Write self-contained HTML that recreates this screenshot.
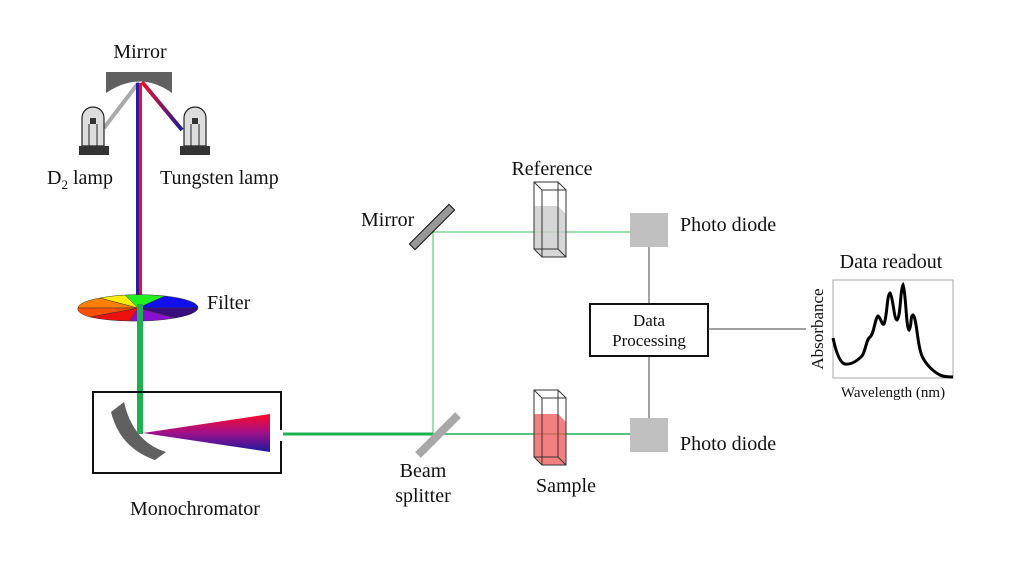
<!DOCTYPE html>
<html><head><meta charset="utf-8"><style>
html,body{margin:0;padding:0;background:#fff;}
svg{display:block;}
text{font-family:"Liberation Serif",serif;fill:#111;}
</style></head><body>
<svg width="1024" height="574" viewBox="0 0 1024 574" xmlns="http://www.w3.org/2000/svg">
<defs>
<linearGradient id="tg" x1="0" y1="0" x2="1" y2="1"><stop offset="0" stop-color="#f01030"/><stop offset="1" stop-color="#1a1a90"/></linearGradient>
<linearGradient id="tri" x1="0" y1="0" x2="0" y2="1"><stop offset="0" stop-color="#ff0a2a"/><stop offset="0.5" stop-color="#a0108a"/><stop offset="1" stop-color="#1a1aa0"/></linearGradient>
</defs>
<!-- top mirror -->
<path d="M106,72 L172,72 L172,93 Q140,70 106,93 Z" fill="#606060"/>
<line x1="104" y1="128" x2="139" y2="82" stroke="#aaa" stroke-width="4"/>
<line x1="142" y1="82" x2="182" y2="130" stroke="url(#tg)" stroke-width="4"/>
<rect x="136" y="83" width="3" height="220" fill="#2a1aa0"/>
<rect x="139" y="83" width="3" height="220" fill="#f01030"/>
<!-- D2 lamp -->
<path d="M82,146 L82,118 A11,11 0 0 1 104,118 L104,146 Z" fill="#ddd" stroke="#222" stroke-width="1.2"/>
<line x1="89" y1="146" x2="89" y2="124" stroke="#222"/><line x1="97" y1="146" x2="97" y2="124" stroke="#222"/>
<rect x="90" y="118" width="6" height="6" fill="#333"/>
<rect x="79" y="146" width="30" height="9" fill="#333"/>
<!-- tungsten lamp -->
<path d="M184,146 L184,118 A11,11 0 0 1 206,118 L206,146 Z" fill="#ddd" stroke="#222" stroke-width="1.2"/>
<line x1="191" y1="146" x2="191" y2="124" stroke="#222"/><line x1="199" y1="146" x2="199" y2="124" stroke="#222"/>
<rect x="192" y="118" width="6" height="6" fill="#333"/>
<rect x="180" y="146" width="30" height="9" fill="#333"/>
<!-- filter -->
<g stroke="#333" stroke-width="0.5">
<path d="M138,308 L78,308 A60,13 0 0 1 100,298 Z" fill="#ff8000"/>
<path d="M138,308 L100,298 A60,13 0 0 1 125,295 Z" fill="#ffee00"/>
<path d="M138,308 L125,295 A60,13 0 0 1 165,296 Z" fill="#22ee22"/>
<path d="M138,308 L165,296 A60,13 0 0 1 198,308 Z" fill="#1010ee"/>
<path d="M138,308 L198,308 A60,13 0 0 1 175,318 Z" fill="#3a0a80"/>
<path d="M138,308 L175,318 A60,13 0 0 1 130,321 Z" fill="#8a10d0"/>
<path d="M138,308 L130,321 A60,13 0 0 1 90,317 Z" fill="#ee1010"/>
<path d="M138,308 L90,317 A60,13 0 0 1 78,308 Z" fill="#ff5000"/>
</g>
<rect x="137" y="304" width="6" height="130" fill="#1fb050"/>
<!-- monochromator -->
<path d="M281,430 L281,392 L93,392 L93,473 L281,473 L281,441" fill="none" stroke="#111" stroke-width="2"/>
<path d="M111,412 L124,402 Q133,442 166,452 L155,460 Q120,448 111,412 Z" fill="#606060"/>
<polygon points="143,433 270,414 270,452" fill="url(#tri)"/>
<!-- output beam -->
<line x1="283" y1="434" x2="433" y2="434" stroke="#1fb050" stroke-width="3"/>
<line x1="433" y1="434" x2="630" y2="434" stroke="#1fb050" stroke-width="1.5"/>
<line x1="433" y1="232" x2="433" y2="434" stroke="#3cc060" stroke-width="1"/>
<line x1="433" y1="232" x2="630" y2="232" stroke="#3cc060" stroke-width="1"/>
<line x1="418" y1="455" x2="458" y2="415" stroke="#a8a8a8" stroke-width="8"/>
<g transform="translate(432,227) rotate(-45)"><rect x="-28" y="-4" width="56" height="8" fill="#999" stroke="#111" stroke-width="1"/></g>
<!-- reference cuvette -->
<polygon points="534,206 558,206 566,214 566,257 542,257 534,249" fill="#ccc" opacity="0.8"/>
<g fill="none" stroke="#333" stroke-width="1">
<rect x="534" y="182" width="24" height="67"/><rect x="542" y="190" width="24" height="67"/>
<line x1="534" y1="182" x2="542" y2="190"/><line x1="558" y1="182" x2="566" y2="190"/>
<line x1="534" y1="249" x2="542" y2="257"/><line x1="558" y1="249" x2="566" y2="257"/>
</g>
<!-- sample cuvette -->
<polygon points="534,414 558,414 566,422 566,465 542,465 534,457" fill="#f06060" opacity="0.8"/>
<g fill="none" stroke="#333" stroke-width="1">
<rect x="534" y="390" width="24" height="67"/><rect x="542" y="398" width="24" height="67"/>
<line x1="534" y1="390" x2="542" y2="398"/><line x1="558" y1="390" x2="566" y2="398"/>
<line x1="534" y1="457" x2="542" y2="465"/><line x1="558" y1="457" x2="566" y2="465"/>
</g>
<!-- photodiodes -->
<rect x="630" y="213" width="38" height="34" fill="#c0c0c0"/>
<rect x="630" y="418" width="38" height="34" fill="#c0c0c0"/>
<line x1="649" y1="247" x2="649" y2="304" stroke="#444"/>
<line x1="649" y1="356" x2="649" y2="418" stroke="#444"/>
<rect x="590" y="304" width="118" height="52" fill="#fff" stroke="#111" stroke-width="2"/>
<line x1="708" y1="329" x2="806" y2="329" stroke="#444"/>
<!-- graph -->
<rect x="833" y="280" width="120" height="98" fill="none" stroke="#aaa" stroke-width="1"/>
<path d="M833,338 C836,352 840,363 845,364 C852,365 858,360 862,356 C866,350 866,340 870,337 C874,334 875,318 878,316 C881,318 882,326 884,324 C887,318 887,294 890,293 C893,296 894,320 897,320 C901,316 900,290 903,285 C906,292 906,328 909,330 C912,326 910,316 913,315 C917,318 917,345 922,356 C926,365 934,372 940,375 C944,377 950,377 953,377" fill="none" stroke="#000" stroke-width="3"/>
<!-- labels -->
<text x="140" y="58" font-size="20" text-anchor="middle">Mirror</text>
<text x="47" y="184" font-size="20">D<tspan font-size="13" dy="5">2</tspan><tspan dy="-5"> lamp</tspan></text>
<text x="160" y="184" font-size="20">Tungsten lamp</text>
<text x="207" y="309" font-size="20">Filter</text>
<text x="195" y="515" font-size="20" text-anchor="middle">Monochromator</text>
<text x="361" y="226" font-size="20">Mirror</text>
<text x="552" y="175" font-size="20" text-anchor="middle">Reference</text>
<text x="680" y="231" font-size="20">Photo diode</text>
<text x="680" y="450" font-size="20">Photo diode</text>
<text x="423" y="477" font-size="20" text-anchor="middle">Beam</text>
<text x="423" y="502" font-size="20" text-anchor="middle">splitter</text>
<text x="566" y="492" font-size="20" text-anchor="middle">Sample</text>
<text x="649" y="326" font-size="17" text-anchor="middle">Data</text>
<text x="649" y="346" font-size="17" text-anchor="middle">Processing</text>
<text x="891" y="268" font-size="20" text-anchor="middle">Data readout</text>
<text x="893" y="397" font-size="15" text-anchor="middle">Wavelength (nm)</text>
<text transform="translate(823,329) rotate(-90)" font-size="17" text-anchor="middle">Absorbance</text>
</svg>
</body></html>
